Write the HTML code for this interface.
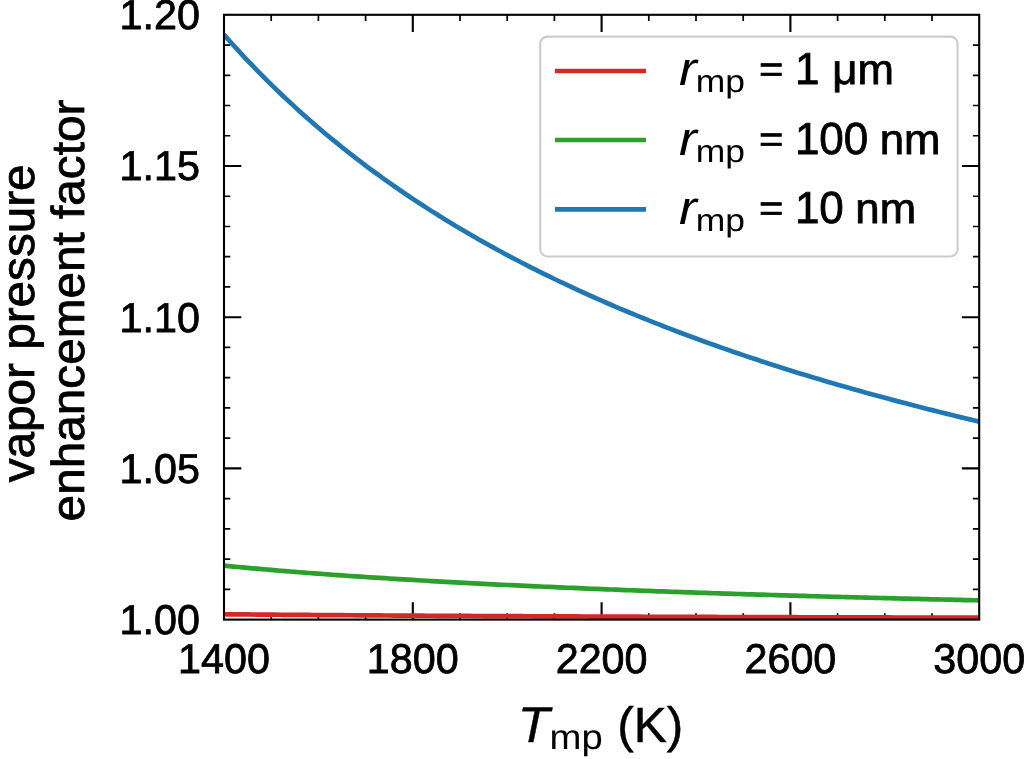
<!DOCTYPE html>
<html lang="en"><head><meta charset="utf-8"><title>Vapor pressure enhancement factor</title>
<style>html,body{margin:0;padding:0;background:#fff}svg{display:block}</style></head>
<body>
<svg width="1025" height="759" viewBox="0 0 1025 759" font-family='"Liberation Sans", Arial, Helvetica, sans-serif' fill="#000" stroke="none" text-rendering="geometricPrecision">
<rect width="1025" height="759" fill="#fff"/>
<defs><clipPath id="ax"><rect x="224.0" y="14.8" width="755.20" height="604.80"/></clipPath></defs>
<path d="M412.80 619.6v-17.3M412.80 14.8v17.3M601.60 619.6v-17.3M601.60 14.8v17.3M790.40 619.6v-17.3M790.40 14.8v17.3M224.0 468.40h17.3M979.2 468.40h-17.3M224.0 317.20h17.3M979.2 317.20h-17.3M224.0 166.00h17.3M979.2 166.00h-17.3" stroke="#000" stroke-width="2.1" fill="none"/>
<path d="M271.20 619.6v-6.3M271.20 14.8v6.3M318.40 619.6v-6.3M318.40 14.8v6.3M365.60 619.6v-6.3M365.60 14.8v6.3M460.00 619.6v-6.3M460.00 14.8v6.3M507.20 619.6v-6.3M507.20 14.8v6.3M554.40 619.6v-6.3M554.40 14.8v6.3M648.80 619.6v-6.3M648.80 14.8v6.3M696.00 619.6v-6.3M696.00 14.8v6.3M743.20 619.6v-6.3M743.20 14.8v6.3M837.60 619.6v-6.3M837.60 14.8v6.3M884.80 619.6v-6.3M884.80 14.8v6.3M932.00 619.6v-6.3M932.00 14.8v6.3M224.0 589.36h6.3M979.2 589.36h-6.3M224.0 559.12h6.3M979.2 559.12h-6.3M224.0 528.88h6.3M979.2 528.88h-6.3M224.0 498.64h6.3M979.2 498.64h-6.3M224.0 438.16h6.3M979.2 438.16h-6.3M224.0 407.92h6.3M979.2 407.92h-6.3M224.0 377.68h6.3M979.2 377.68h-6.3M224.0 347.44h6.3M979.2 347.44h-6.3M224.0 286.96h6.3M979.2 286.96h-6.3M224.0 256.72h6.3M979.2 256.72h-6.3M224.0 226.48h6.3M979.2 226.48h-6.3M224.0 196.24h6.3M979.2 196.24h-6.3M224.0 135.76h6.3M979.2 135.76h-6.3M224.0 105.52h6.3M979.2 105.52h-6.3M224.0 75.28h6.3M979.2 75.28h-6.3M224.0 45.04h6.3M979.2 45.04h-6.3" stroke="#000" stroke-width="1.7" fill="none"/>
<g clip-path="url(#ax)" fill="none" stroke-linejoin="round">
<polyline points="224.00,614.25 228.72,614.29 233.44,614.34 238.16,614.38 242.88,614.42 247.60,614.47 252.32,614.51 257.04,614.55 261.76,614.59 266.48,614.63 271.20,614.67 275.92,614.71 280.64,614.75 285.36,614.79 290.08,614.82 294.80,614.86 299.52,614.90 304.24,614.93 308.96,614.97 313.68,615.00 318.40,615.04 323.12,615.07 327.84,615.11 332.56,615.14 337.28,615.17 342.00,615.21 346.72,615.24 351.44,615.27 356.16,615.30 360.88,615.34 365.60,615.37 370.32,615.40 375.04,615.43 379.76,615.46 384.48,615.49 389.20,615.52 393.92,615.55 398.64,615.57 403.36,615.60 408.08,615.63 412.80,615.66 417.52,615.69 422.24,615.71 426.96,615.74 431.68,615.77 436.40,615.79 441.12,615.82 445.84,615.84 450.56,615.87 455.28,615.89 460.00,615.92 464.72,615.94 469.44,615.97 474.16,615.99 478.88,616.02 483.60,616.04 488.32,616.06 493.04,616.09 497.76,616.11 502.48,616.13 507.20,616.16 511.92,616.18 516.64,616.20 521.36,616.22 526.08,616.24 530.80,616.27 535.52,616.29 540.24,616.31 544.96,616.33 549.68,616.35 554.40,616.37 559.12,616.39 563.84,616.41 568.56,616.43 573.28,616.45 578.00,616.47 582.72,616.49 587.44,616.51 592.16,616.53 596.88,616.55 601.60,616.57 606.32,616.59 611.04,616.60 615.76,616.62 620.48,616.64 625.20,616.66 629.92,616.68 634.64,616.69 639.36,616.71 644.08,616.73 648.80,616.75 653.52,616.76 658.24,616.78 662.96,616.80 667.68,616.81 672.40,616.83 677.12,616.85 681.84,616.86 686.56,616.88 691.28,616.90 696.00,616.91 700.72,616.93 705.44,616.94 710.16,616.96 714.88,616.97 719.60,616.99 724.32,617.00 729.04,617.02 733.76,617.03 738.48,617.05 743.20,617.06 747.92,617.08 752.64,617.09 757.36,617.11 762.08,617.12 766.80,617.14 771.52,617.15 776.24,617.16 780.96,617.18 785.68,617.19 790.40,617.20 795.12,617.22 799.84,617.23 804.56,617.25 809.28,617.26 814.00,617.27 818.72,617.28 823.44,617.30 828.16,617.31 832.88,617.32 837.60,617.34 842.32,617.35 847.04,617.36 851.76,617.37 856.48,617.39 861.20,617.40 865.92,617.41 870.64,617.42 875.36,617.44 880.08,617.45 884.80,617.46 889.52,617.47 894.24,617.48 898.96,617.49 903.68,617.51 908.40,617.52 913.12,617.53 917.84,617.54 922.56,617.55 927.28,617.56 932.00,617.57 936.72,617.58 941.44,617.60 946.16,617.61 950.88,617.62 955.60,617.63 960.32,617.64 965.04,617.65 969.76,617.66 974.48,617.67 979.20,617.68" stroke="#d62728" stroke-width="4.7"/>
<polyline points="224.00,565.65 228.72,566.11 233.44,566.56 238.16,567.00 242.88,567.43 247.60,567.87 252.32,568.29 257.04,568.71 261.76,569.12 266.48,569.53 271.20,569.93 275.92,570.33 280.64,570.72 285.36,571.11 290.08,571.49 294.80,571.87 299.52,572.24 304.24,572.61 308.96,572.97 313.68,573.33 318.40,573.68 323.12,574.03 327.84,574.38 332.56,574.72 337.28,575.06 342.00,575.39 346.72,575.72 351.44,576.04 356.16,576.36 360.88,576.68 365.60,577.00 370.32,577.31 375.04,577.61 379.76,577.92 384.48,578.22 389.20,578.51 393.92,578.81 398.64,579.10 403.36,579.38 408.08,579.67 412.80,579.95 417.52,580.23 422.24,580.50 426.96,580.77 431.68,581.04 436.40,581.31 441.12,581.57 445.84,581.83 450.56,582.09 455.28,582.34 460.00,582.60 464.72,582.85 469.44,583.09 474.16,583.34 478.88,583.58 483.60,583.82 488.32,584.06 493.04,584.29 497.76,584.53 502.48,584.76 507.20,584.98 511.92,585.21 516.64,585.43 521.36,585.66 526.08,585.88 530.80,586.09 535.52,586.31 540.24,586.52 544.96,586.73 549.68,586.94 554.40,587.15 559.12,587.36 563.84,587.56 568.56,587.76 573.28,587.96 578.00,588.16 582.72,588.36 587.44,588.55 592.16,588.75 596.88,588.94 601.60,589.13 606.32,589.32 611.04,589.50 615.76,589.69 620.48,589.87 625.20,590.05 629.92,590.23 634.64,590.41 639.36,590.59 644.08,590.76 648.80,590.94 653.52,591.11 658.24,591.28 662.96,591.45 667.68,591.62 672.40,591.79 677.12,591.95 681.84,592.12 686.56,592.28 691.28,592.44 696.00,592.60 700.72,592.76 705.44,592.92 710.16,593.08 714.88,593.23 719.60,593.39 724.32,593.54 729.04,593.69 733.76,593.84 738.48,593.99 743.20,594.14 747.92,594.29 752.64,594.43 757.36,594.58 762.08,594.72 766.80,594.86 771.52,595.01 776.24,595.15 780.96,595.29 785.68,595.43 790.40,595.56 795.12,595.70 799.84,595.84 804.56,595.97 809.28,596.10 814.00,596.24 818.72,596.37 823.44,596.50 828.16,596.63 832.88,596.76 837.60,596.89 842.32,597.02 847.04,597.14 851.76,597.27 856.48,597.39 861.20,597.52 865.92,597.64 870.64,597.76 875.36,597.88 880.08,598.00 884.80,598.12 889.52,598.24 894.24,598.36 898.96,598.48 903.68,598.59 908.40,598.71 913.12,598.82 917.84,598.94 922.56,599.05 927.28,599.17 932.00,599.28 936.72,599.39 941.44,599.50 946.16,599.61 950.88,599.72 955.60,599.83 960.32,599.94 965.04,600.04 969.76,600.15 974.48,600.25 979.20,600.36" stroke="#2ca02c" stroke-width="4.7"/>
<polyline points="224.00,34.68 228.72,40.02 233.44,45.27 238.16,50.44 242.88,55.53 247.60,60.55 252.32,65.49 257.04,70.36 261.76,75.16 266.48,79.89 271.20,84.55 275.92,89.15 280.64,93.68 285.36,98.14 290.08,102.55 294.80,106.89 299.52,111.18 304.24,115.40 308.96,119.57 313.68,123.68 318.40,127.74 323.12,131.74 327.84,135.69 332.56,139.59 337.28,143.44 342.00,147.23 346.72,150.98 351.44,154.69 356.16,158.34 360.88,161.95 365.60,165.51 370.32,169.03 375.04,172.51 379.76,175.94 384.48,179.33 389.20,182.68 393.92,186.00 398.64,189.27 403.36,192.50 408.08,195.69 412.80,198.85 417.52,201.97 422.24,205.05 426.96,208.10 431.68,211.12 436.40,214.10 441.12,217.04 445.84,219.95 450.56,222.83 455.28,225.68 460.00,228.50 464.72,231.29 469.44,234.04 474.16,236.77 478.88,239.47 483.60,242.13 488.32,244.77 493.04,247.38 497.76,249.97 502.48,252.53 507.20,255.06 511.92,257.56 516.64,260.04 521.36,262.49 526.08,264.92 530.80,267.32 535.52,269.70 540.24,272.06 544.96,274.39 549.68,276.70 554.40,278.99 559.12,281.25 563.84,283.49 568.56,285.72 573.28,287.91 578.00,290.09 582.72,292.25 587.44,294.39 592.16,296.50 596.88,298.60 601.60,300.68 606.32,302.74 611.04,304.77 615.76,306.79 620.48,308.80 625.20,310.78 629.92,312.75 634.64,314.69 639.36,316.62 644.08,318.54 648.80,320.43 653.52,322.31 658.24,324.18 662.96,326.02 667.68,327.85 672.40,329.67 677.12,331.47 681.84,333.25 686.56,335.02 691.28,336.77 696.00,338.51 700.72,340.24 705.44,341.95 710.16,343.64 714.88,345.32 719.60,346.99 724.32,348.65 729.04,350.29 733.76,351.91 738.48,353.53 743.20,355.13 747.92,356.72 752.64,358.29 757.36,359.85 762.08,361.40 766.80,362.94 771.52,364.47 776.24,365.98 780.96,367.49 785.68,368.98 790.40,370.46 795.12,371.92 799.84,373.38 804.56,374.83 809.28,376.26 814.00,377.69 818.72,379.10 823.44,380.50 828.16,381.89 832.88,383.28 837.60,384.65 842.32,386.01 847.04,387.36 851.76,388.70 856.48,390.04 861.20,391.36 865.92,392.67 870.64,393.98 875.36,395.27 880.08,396.56 884.80,397.83 889.52,399.10 894.24,400.36 898.96,401.61 903.68,402.85 908.40,404.08 913.12,405.30 917.84,406.52 922.56,407.73 927.28,408.93 932.00,410.12 936.72,411.30 941.44,412.47 946.16,413.64 950.88,414.80 955.60,415.95 960.32,417.10 965.04,418.23 969.76,419.36 974.48,420.48 979.20,421.60" stroke="#1f77b4" stroke-width="4.7"/>
</g>
<rect x="224.0" y="14.8" width="755.20" height="604.80" fill="none" stroke="#000" stroke-width="2.1"/>
<text transform="translate(199.90 634.00) scale(0.9950 1)" font-size="41.50" text-anchor="end" stroke="#000" stroke-width="0.8">1.00</text>
<text transform="translate(199.90 482.80) scale(0.9950 1)" font-size="41.50" text-anchor="end" stroke="#000" stroke-width="0.8">1.05</text>
<text transform="translate(199.90 331.60) scale(0.9950 1)" font-size="41.50" text-anchor="end" stroke="#000" stroke-width="0.8">1.10</text>
<text transform="translate(199.90 180.40) scale(0.9950 1)" font-size="41.50" text-anchor="end" stroke="#000" stroke-width="0.8">1.15</text>
<text transform="translate(199.90 29.20) scale(0.9950 1)" font-size="41.50" text-anchor="end" stroke="#000" stroke-width="0.8">1.20</text>
<text transform="translate(224.00 673.00) scale(0.9950 1)" font-size="41.50" text-anchor="middle" stroke="#000" stroke-width="0.8">1400</text>
<text transform="translate(412.80 673.00) scale(0.9950 1)" font-size="41.50" text-anchor="middle" stroke="#000" stroke-width="0.8">1800</text>
<text transform="translate(601.60 673.00) scale(0.9950 1)" font-size="41.50" text-anchor="middle" stroke="#000" stroke-width="0.8">2200</text>
<text transform="translate(790.40 673.00) scale(0.9950 1)" font-size="41.50" text-anchor="middle" stroke="#000" stroke-width="0.8">2600</text>
<text transform="translate(979.20 673.00) scale(0.9950 1)" font-size="41.50" text-anchor="middle" stroke="#000" stroke-width="0.8">3000</text>
<text transform="translate(517.70 742.00) scale(1.0370 1)" font-size="50.10" font-style="italic" stroke="#000" stroke-width="0.4">T</text>
<text transform="translate(549.60 749.00) scale(1.0980 1)" font-size="34.90">mp</text>
<text transform="translate(617.20 742.00)" font-size="49.60" stroke="#000" stroke-width="0.5">(K)</text>
<text transform="translate(34 482.3) rotate(-90) scale(1.02750 1.0)" font-size="46.40" stroke="#000" stroke-width="0.80">vapor pressure</text>
<text transform="translate(84 521.4) rotate(-90) scale(1.02850 1.0)" font-size="46.40" stroke="#000" stroke-width="0.80">enhancement factor</text>
<rect x="540.2" y="36.6" width="417.40" height="219.90" rx="7.3" ry="7.3" fill="#fff" fill-opacity="0.8" stroke="#ccc" stroke-width="2.1"/>
<path d="M555.0 71.0H646.0" stroke="#d62728" stroke-width="4.7" fill="none"/>
<text transform="translate(679.00 85.00) scale(1.1300 1)" font-size="47.20" font-style="italic">r</text>
<text transform="translate(695.75 91.50) scale(1.1210 1)" font-size="31.60">mp</text>
<text transform="translate(759.06 82.00) scale(0.932 0.837)" font-size="44.84" stroke="#000" stroke-width="0.8">=</text>
<text transform="translate(794.90 84.00) scale(0.9810 1)" font-size="44.84" stroke="#000" stroke-width="0.8">1</text>
<text transform="translate(832.30 84.00) scale(1.0260 1)" font-size="42.65" stroke="#000" stroke-width="0.8">μm</text>
<path d="M555.0 140.0H646.0" stroke="#2ca02c" stroke-width="4.7" fill="none"/>
<text transform="translate(679.00 155.00) scale(1.1300 1)" font-size="47.20" font-style="italic">r</text>
<text transform="translate(695.75 161.50) scale(1.1210 1)" font-size="31.60">mp</text>
<text transform="translate(759.06 152.00) scale(0.932 0.837)" font-size="44.84" stroke="#000" stroke-width="0.8">=</text>
<text transform="translate(794.90 154.00) scale(0.9810 1)" font-size="44.84" stroke="#000" stroke-width="0.8">100</text>
<text transform="translate(879.65 154.00) scale(1.0260 1)" font-size="42.65" stroke="#000" stroke-width="0.8">nm</text>
<path d="M555.0 209.3H646.0" stroke="#1f77b4" stroke-width="4.7" fill="none"/>
<text transform="translate(679.00 224.00) scale(1.1300 1)" font-size="47.20" font-style="italic">r</text>
<text transform="translate(695.75 230.50) scale(1.1210 1)" font-size="31.60">mp</text>
<text transform="translate(759.06 221.00) scale(0.932 0.837)" font-size="44.84" stroke="#000" stroke-width="0.8">=</text>
<text transform="translate(794.90 223.00) scale(0.9810 1)" font-size="44.84" stroke="#000" stroke-width="0.8">10</text>
<text transform="translate(855.30 223.00) scale(1.0260 1)" font-size="42.65" stroke="#000" stroke-width="0.8">nm</text>
</svg>
</body></html>
